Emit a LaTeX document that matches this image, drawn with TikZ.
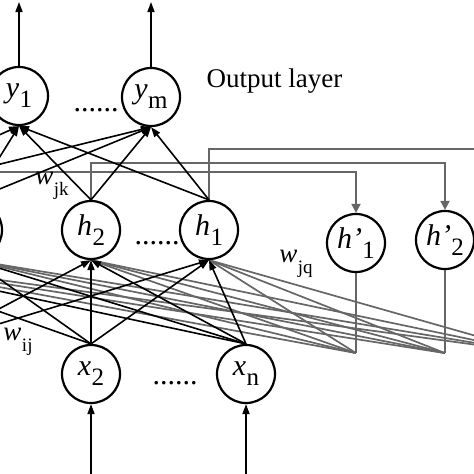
\documentclass[tikz,border=0pt]{standalone}
\usepackage{fontspec}
\setmainfont{Liberation Serif}
\usetikzlibrary{arrows.meta,backgrounds}
\newcommand{\nlab}[2]{\textit{#1}\kern0.5pt\raisebox{-0.33em}{\fontsize{25}{27}\selectfont #2}}
\newcommand{\wlab}[2]{\textit{#1}\kern0.5pt\raisebox{-0.4em}{\fontsize{19}{21}\selectfont #2}}
\tikzset{
  neuron/.style={circle, draw, line width=2.2pt, minimum size=58pt, inner sep=0pt, font=\fontsize{30}{32}\selectfont},
  conn/.style={line width=1.6pt, -{Triangle[length=10pt,width=7pt]}},
  ctx/.style={line width=1.7pt, draw=black!60},
  ctxarrow/.style={line width=1.7pt, draw=black!60, -{Triangle[length=9pt,width=9pt]}},
  dotsnode/.style={font=\fontsize{30}{32}\selectfont},
  wnode/.style={font=\fontsize{27}{29}\selectfont},
}
\begin{document}
\begin{tikzpicture}[x=1pt,y=-1pt]
\useasboundingbox (0,0) rectangle (474,474);
\clip (0,0) rectangle (474,474);
% output layer
\node[neuron] (y1) at (19,96) {\nlab{y}{1}};
\node[neuron] (ym) at (151,97) {\nlab{y}{m}};
% hidden layer
\node[neuron] (h4) at (-146,230) {};
\node[neuron] (h3) at (-27,230) {};
\node[neuron] (h2) at (91,230) {\nlab{h}{2}};
\node[neuron] (h1) at (209,230) {\nlab{h}{1}};
% context layer
\node[neuron] (hp1) at (356,243) {\nlab{h'}{1}};
\node[neuron] (hp2) at (445,240) {\nlab{h'}{2}};
% input layer
\node[neuron] (x1) at (-67,374) {};
\node[neuron] (x2) at (91,374) {\nlab{x}{2}};
\node[neuron] (xn) at (246,374) {\nlab{x}{n}};
% texts
\node[font=\fontsize{27}{29}\selectfont, anchor=base west] (otxt) at (203,87) {Output layer};
\node[dotsnode] (d1) at (96,110) {......};
\node[dotsnode] (d2) at (157,243) {......};
\node[dotsnode] (d3) at (175,383) {......};
\node[wnode] (wjk) at (52,186) {\wlab{w}{jk}};
\node[wnode] (wjq) at (296,264) {\wlab{w}{jq}};
\node[wnode] (wij) at (18,342) {\wlab{w}{ij}};
% free ends
\coordinate (out1) at (19,2);
\coordinate (outm) at (151,2);
\coordinate (in2) at (91,480);
\coordinate (inn) at (246,480);
\coordinate (c1) at (490,149);
\coordinate (b2) at (0,163);
\coordinate (b3) at (0,172);
\coordinate (q3) at (536,353);
\path (hp1.south) ++(0,80) coordinate (q1);
\path (hp2.south) ++(0,83) coordinate (q2);
\begin{scope}[on background layer]
\clip (0,0) rectangle (474,474);
% context connections (grey)
\foreach \q in {q1,q2,q3}
  \foreach \h in {h1,h2,h3,h4}
    \draw[ctx] (\q) -- (\h.south);
\draw[ctx] (hp1.south) -- (q1);
\draw[ctx] (hp2.south) -- (q2);
\draw[ctx] (h1.north) |- (c1);
\draw[ctxarrow] (h2.north) |- (hp2 |- b2) -- (hp2.north);
\draw[ctxarrow] (h3.north) |- (hp1 |- b3) -- (hp1.north);
% input to hidden
\foreach \x in {x1,x2,xn}
  \foreach \h in {h1,h2,h3,h4}
    \draw[conn] (\x.north) -- (\h.south);
% hidden to output
\foreach \h in {h1,h2,h3,h4}
  \foreach \y in {y1,ym}
    \draw[conn] (\h.north) -- (\y.south);
% external arrows
\draw[conn] (y1.north) -- (out1);
\draw[conn] (ym.north) -- (outm);
\draw[conn] (in2) -- (x2.south);
\draw[conn] (inn) -- (xn.south);
\end{scope}
\end{tikzpicture}
\end{document}
